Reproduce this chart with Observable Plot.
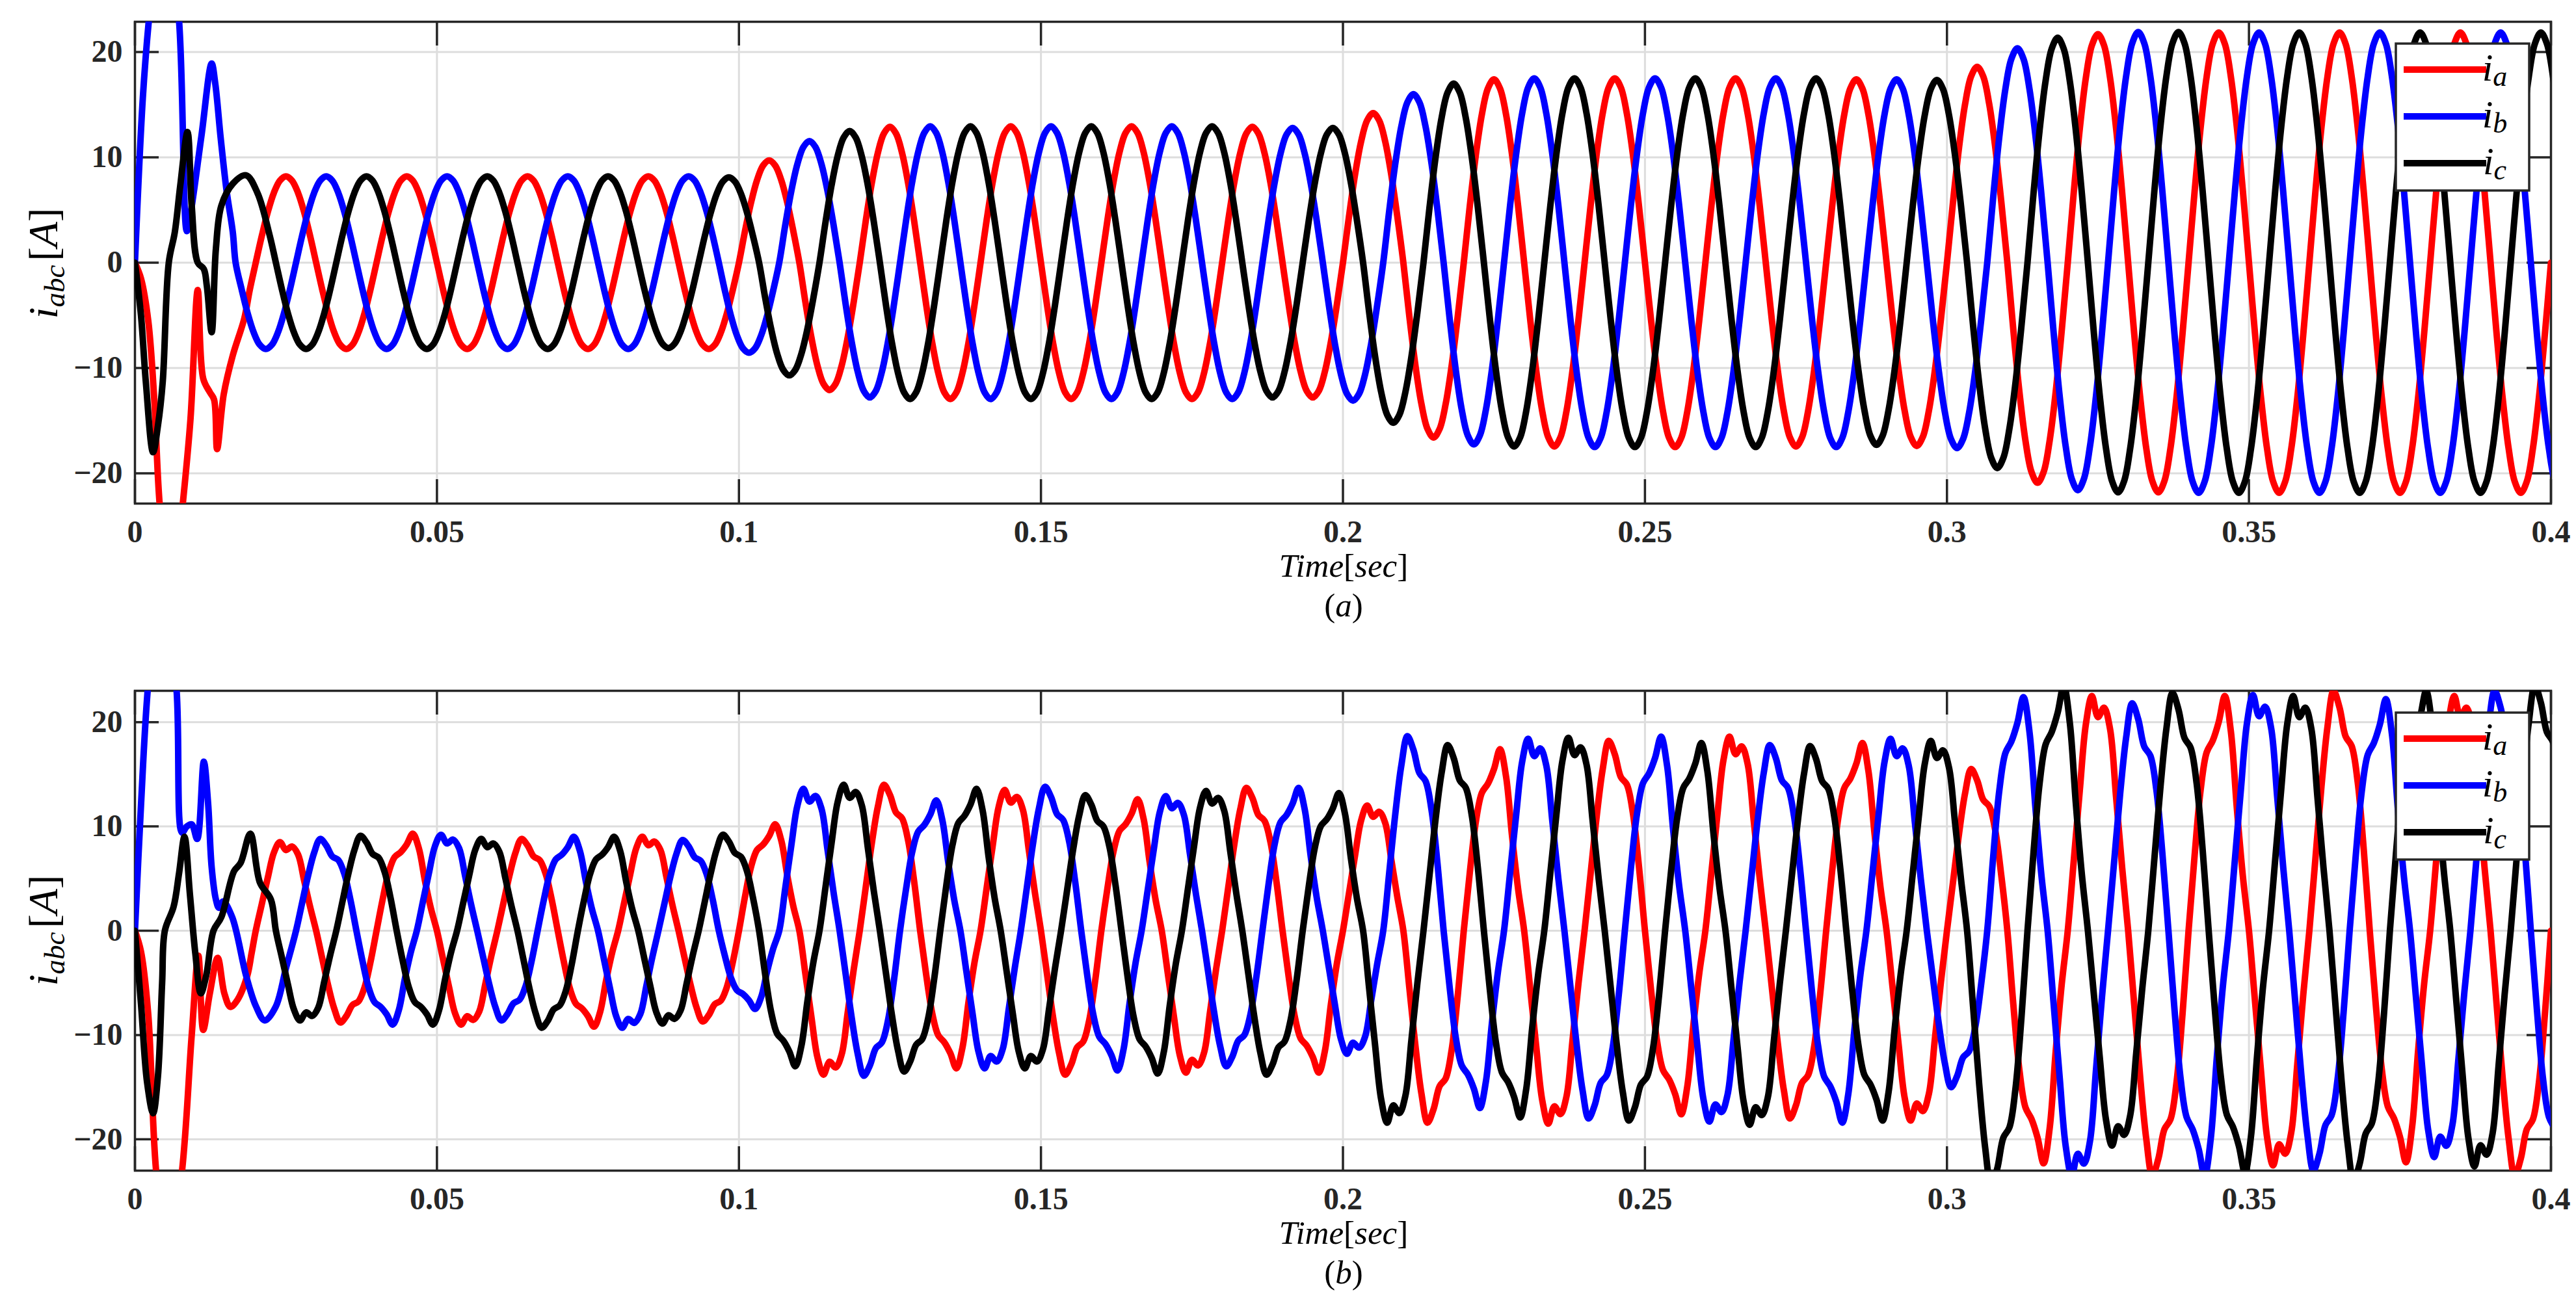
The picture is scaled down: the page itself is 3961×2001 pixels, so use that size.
<!DOCTYPE html>
<html><head><meta charset="utf-8">
<script src="https://cdn.jsdelivr.net/npm/d3@7"></script>
<script src="https://cdn.jsdelivr.net/npm/@observablehq/plot@0.6"></script>
<style>
html,body{margin:0;padding:0;background:#fff;}
#page{position:relative;width:3961px;height:2001px;background:#fff;overflow:hidden;}
.panel{position:absolute;left:0;}
</style></head><body><div id="page"><div id="pa" class="panel" style="top:0px"></div><div id="pb" class="panel" style="top:1000px"></div></div>
<script>
// ---------------- data ----------------
const timeTicks = [0, 0.05, 0.1, 0.15, 0.2, 0.25, 0.3, 0.35, 0.4];
const currentTicks = [-20, -10, 0, 10, 20];
const phaseNames = ["a", "b", "c"];
const phaseColors = ["#ff0000", "#0000ff", "#000000"];
const halfCycleMs = 10;      // 50 Hz supply
const sampleMs = 1;          // spacing of profile samples inside a half cycle

// normalised half-cycle profiles (value / half-cycle peak), 1 ms apart
const profileA = [0, 0.309, 0.588, 0.809, 0.951, 1, 0.951, 0.809, 0.588, 0.309];
const profilesB = [
  [0, 0.30, 0.60, 0.85, 1.00, 0.93, 0.81, 0.77, 0.62, 0.34],
  [0, 0.32, 0.60, 0.76, 0.81, 0.89, 1.00, 0.85, 0.52, 0.23],
  [0, 0.30, 0.60, 0.88, 1.00, 0.91, 0.95, 0.86, 0.57, 0.27]
];
const profileOffsetB = [2, 0, 2];

// ---- panel (a): start-up transient [ms, A], first steady zero crossing [ms], half-cycle peaks [A]
const iaStartA = [[0,0],[1,-1.5],[2.2,-5.5],[3.2,-13],[4.1,-23],[6,-33],[7.9,-23],[9.2,-14.8],[10.4,-2.6],[11.3,-11],[12.4,-12.3],[13.1,-13],[13.6,-17.7],[14.7,-12.5],[16.2,-8.8],[18.1,-5.3],[19,-2.6]];
const iaZeroA = 20;
const iaPeaksA = [8.2,-8.2,8.2,-8.2,8.2,-8.2,8.2,-8.2, 9.7,-12.1,12.9,-12.95,12.95,-12.95,12.95,-12.95,12.9,-12.8, 14.2,-16.6,17.4,-17.45,17.5,-17.5,17.5,-17.45,17.4,-17.4, 18.6,-20.9,21.7,-21.8,21.85,-21.85,21.85,-21.85,21.85,-21.85];

const ibStartA = [[0,0],[1.3,15.6],[2.3,23],[4.8,36],[7.3,23],[8.6,3],[9.3,5],[11,12],[12.7,18.9],[13.3,17],[14.2,11.8],[15.2,6.7],[16.2,2.9]];
const ibZeroA = 16.667;
const ibPeaksA = [-8.2,8.2,-8.2,8.2,-8.2,8.2,-8.2,8.2, -8.55,11.55,-12.8,12.95,-12.95,12.95,-12.95,12.95,-12.95,12.8, -13.1,16.0,-17.25,17.5,-17.5,17.5,-17.5,17.5,-17.5,17.4, -17.6,20.35,-21.6,21.9,-21.85,21.85,-21.85,21.85,-21.85,21.85, -21.85];

const icStartA = [[0,0],[1,-5],[1.8,-11.3],[3,-18],[3.8,-15.5],[4.6,-11.3],[5.6,0],[6.6,2.9],[7.5,7.3],[8.7,12.4],[9.4,5.4],[10.4,0],[11.4,-0.6],[11.9,-2.2],[12.7,-6.6],[13.4,1.3],[14.3,5.4],[16.2,7.5],[18.4,8.3],[20.3,6.6],[22.3,2.6]];
const icZeroA = 23.333;
const icPeaksA = [-8.2,8.2,-8.2,8.2,-8.2,8.2,-8.1,8.1, -10.7,12.5,-12.95,12.95,-12.95,12.95,-12.95,12.95,-12.8,12.8, -15.2,17.0,-17.45,17.5,-17.5,17.5,-17.5,17.5,-17.3,17.35, -19.5,21.35,-21.8,21.9,-21.85,21.85,-21.85,21.85,-21.85,21.85];

// ---- panel (b)
const iaStartB = [[0,0],[1,-2],[2.2,-8],[3.5,-23],[5.5,-32],[7.8,-23],[9.4,-10],[10.5,-2.4],[11.3,-9.5],[12.4,-6],[13.7,-2.6],[14.8,-6],[15.8,-7.3],[17,-6.6],[18.6,-4.3],[19.3,-2.2]];
const iaZeroB = 20;
const iaPeaksB = [8.5,-8.8,9.3,-9.0,8.8,-9.2,9.0,-8.7, 10.2,-13.8,14.0,-13.2,13.5,-13.8,12.6,-13.6,13.7,-13.6, 12.0,-18.4,17.4,-18.5,18.2,-17.6,18.6,-18.0,18.0,-18.2, 15.5,-22.3,22.5,-23.5,22.5,-22.5,23.0,-22.2,22.5,-23.5];

const ibStartB = [[0,0],[1,12],[2.1,23],[4.5,37],[6.9,23],[7.8,9.4],[8.6,10],[9.4,10.2],[10.3,8.8],[11.4,16.2],[12.1,12.3],[12.7,6.1],[13.4,3],[13.9,2.2],[14.6,2.8],[16.1,1.3],[18.4,-4.3],[20,-7.2],[21.5,-8.6],[23.3,-7.3],[25,-3.6]];
const ibZeroB = 26.667;
const ibPeaksB = [8.8,-9.0,9.2,-8.6,9.0,-9.3,8.7, -7.5,13.6,-13.9,12.5,-13.2,13.8,-13.4,12.9,-13.0,13.7, -11.8,18.65,-17.0,18.4,-18.0,18.6,-18.3,17.8,-18.4,18.4, -15.0,22.4,-23.5,21.8,-23.5,22.6,-23.0,22.2,-21.7,23.0,-23.5];

const icStartB = [[0,0],[1,-7],[2,-14.5],[3,-17.5],[3.8,-14],[4.5,-5],[4.95,0],[6.4,2.3],[7.3,5.5],[8.2,9],[9.1,3.5],[10,-2.2],[10.9,-6],[11.8,-4.3],[13,0],[14.3,1.3],[16.4,5.7],[17.5,6.5],[19.1,9.3],[20.7,4.6],[22.5,3]];
const icZeroB = 23.333;
const icPeaksB = [-8.6,9.1,-9.0,8.8,-9.3,9.0,-8.9,9.2, -13.0,14.0,-13.5,13.6,-13.2,13.0,-13.7,13.4,-13.8,13.2, -18.4,17.8,-17.9,18.5,-18.2,18.0,-18.6,17.7,-18.2,18.2, -24.5,23.5,-20.6,22.8,-23.2,22.5,-24.0,23.0,-22.6,23.5];

// ---------------- build tables ----------------
function buildTrace(start, zeroMs, peaks, profileFor) {
  const rows = start.map(([ms, amp]) => ({t: ms / 1000, v: amp}));
  peaks.forEach((peak, k) => {
    profileFor(k).forEach((p, j) => rows.push({t: (zeroMs + k * halfCycleMs + j * sampleMs) / 1000, v: peak * p}));
  });
  rows.push({t: (zeroMs + peaks.length * halfCycleMs) / 1000, v: 0});
  return rows;
}
const tracesA = [
  buildTrace(iaStartA, iaZeroA, iaPeaksA, () => profileA),
  buildTrace(ibStartA, ibZeroA, ibPeaksA, () => profileA),
  buildTrace(icStartA, icZeroA, icPeaksA, () => profileA)
];
const tracesB = [
  buildTrace(iaStartB, iaZeroB, iaPeaksB, k => profilesB[(k + profileOffsetB[0]) % 3]),
  buildTrace(ibStartB, ibZeroB, ibPeaksB, k => profilesB[(k + profileOffsetB[1]) % 3]),
  buildTrace(icStartB, icZeroB, icPeaksB, k => profilesB[(k + profileOffsetB[2]) % 3])
];

// ---------------- drawing ----------------
const W = 3961, ML = 207, MR = 39, FW = W - ML - MR;
const FONT = "Liberation Serif";
const AX = "#262626";
const fmtX = d => String(d);
const fmtY = d => d < 0 ? "\u2212" + (-d) : String(d);

function panel(traces, yDomain, H, mTop, mBottom) {
  const FH = H - mTop - mBottom;
  const tickStyle = {stroke: AX, strokeWidth: 3.5};
  return Plot.plot({
    width: W, height: H,
    marginLeft: ML, marginRight: MR, marginTop: mTop, marginBottom: mBottom,
    x: {domain: [0, 0.4]},
    y: {domain: yDomain},
    style: {background: "white", fontFamily: FONT, fontWeight: "bold", fontSize: "48px", color: AX, overflow: "visible"},
    marks: [
      Plot.gridX(timeTicks, {stroke: "#dddddd", strokeOpacity: 1, strokeWidth: 3}),
      Plot.gridY(currentTicks, {stroke: "#dddddd", strokeOpacity: 1, strokeWidth: 3}),
      Plot.frame({stroke: AX, strokeWidth: 3.5}),
      Plot.tickX(timeTicks, {x: d => d, insetTop: FH - 37, ...tickStyle}),
      Plot.tickX(timeTicks, {x: d => d, insetBottom: FH - 37, ...tickStyle}),
      Plot.tickY(currentTicks, {y: d => d, insetRight: FW - 37, ...tickStyle}),
      Plot.tickY(currentTicks, {y: d => d, insetLeft: FW - 37, ...tickStyle}),
      ...traces.map((rows, i) => Plot.line(rows, {x: "t", y: "v", stroke: phaseColors[i], strokeWidth: 10,
        curve: "catmull-rom", clip: true, strokeLinejoin: "round", strokeLinecap: "round"})),
      Plot.axisX(timeTicks, {anchor: "bottom", tickSize: 0, tickPadding: 25, tickFormat: fmtX,
        fontSize: 48, fontWeight: "bold", fontFamily: FONT, fill: AX, label: null}),
      Plot.axisY(currentTicks, {anchor: "left", tickSize: 0, tickPadding: 19, tickFormat: fmtY,
        fontSize: 48, fontWeight: "bold", fontFamily: FONT, fill: AX, label: null})
    ]
  });
}

function decorate(svg, yMid, frameTop, xLabelY, tag) {
  const s = d3.select(svg);
  s.selectAll("[aria-label='x-axis tick label'] text, [aria-label='y-axis tick label'] text")
    .attr("font-weight", "bold").attr("font-family", FONT);
  // y label  i_abc[A]
  const yl = s.append("text")
    .attr("transform", `translate(88,${yMid}) rotate(-90)`)
    .attr("text-anchor", "middle").attr("font-family", FONT).attr("font-weight", "normal").attr("font-size", 64)
    .attr("fill", "#000");
  yl.append("tspan").attr("font-style", "italic").text("i");
  yl.append("tspan").attr("font-style", "italic").attr("font-size", 45).attr("dy", 11).text("abc");
  yl.append("tspan").attr("dy", -11).attr("dx", 6).text("[");
  yl.append("tspan").attr("font-style", "italic").text("A");
  yl.append("tspan").text("]");
  // x label
  const xl = s.append("text").attr("x", 2066).attr("y", xLabelY)
    .attr("text-anchor", "middle").attr("font-family", FONT).attr("font-weight", "normal").attr("font-size", 51).attr("fill", "#000");
  xl.append("tspan").attr("font-style", "italic").text("Time");
  xl.append("tspan").text("[");
  xl.append("tspan").attr("font-style", "italic").text("sec");
  xl.append("tspan").text("]");
  const cap = s.append("text").attr("x", 2066).attr("y", xLabelY + 61)
    .attr("text-anchor", "middle").attr("font-family", FONT).attr("font-weight", "normal").attr("font-size", 51).attr("fill", "#000");
  cap.append("tspan").text("(");
  cap.append("tspan").attr("font-style", "italic").text(tag);
  cap.append("tspan").text(")");
  // legend
  const lx = 3684, ly = frameTop + 34;
  const g = s.append("g");
  g.append("rect").attr("x", lx).attr("y", ly).attr("width", 205).attr("height", 226)
    .attr("fill", "#fff").attr("stroke", AX).attr("stroke-width", 3.5);
  phaseNames.forEach((p, i) => {
    const yy = ly + 40 + i * 72;
    g.append("line").attr("x1", lx + 12).attr("x2", lx + 139).attr("y1", yy).attr("y2", yy)
      .attr("stroke", phaseColors[i]).attr("stroke-width", 10);
    const t = g.append("text").attr("x", lx + 152).attr("y", yy + 17)
      .attr("font-family", FONT).attr("font-weight", "normal").attr("font-style", "italic").attr("font-size", 60).attr("fill", "#000");
    t.append("tspan").text("i");
    t.append("tspan").attr("font-size", 44).attr("dy", 8).text(p);
  });
}

const svgA = panel(tracesA, [-22.87, 22.87], 1000, 33, 226);
document.getElementById("pa").appendChild(svgA);
decorate(svgA, 405, 33, 887, "a");

const svgB = panel(tracesB, [-23, 23], 1001, 62, 201);
document.getElementById("pb").appendChild(svgB);
decorate(svgB, 431, 62, 913, "b");
</script></body></html>
